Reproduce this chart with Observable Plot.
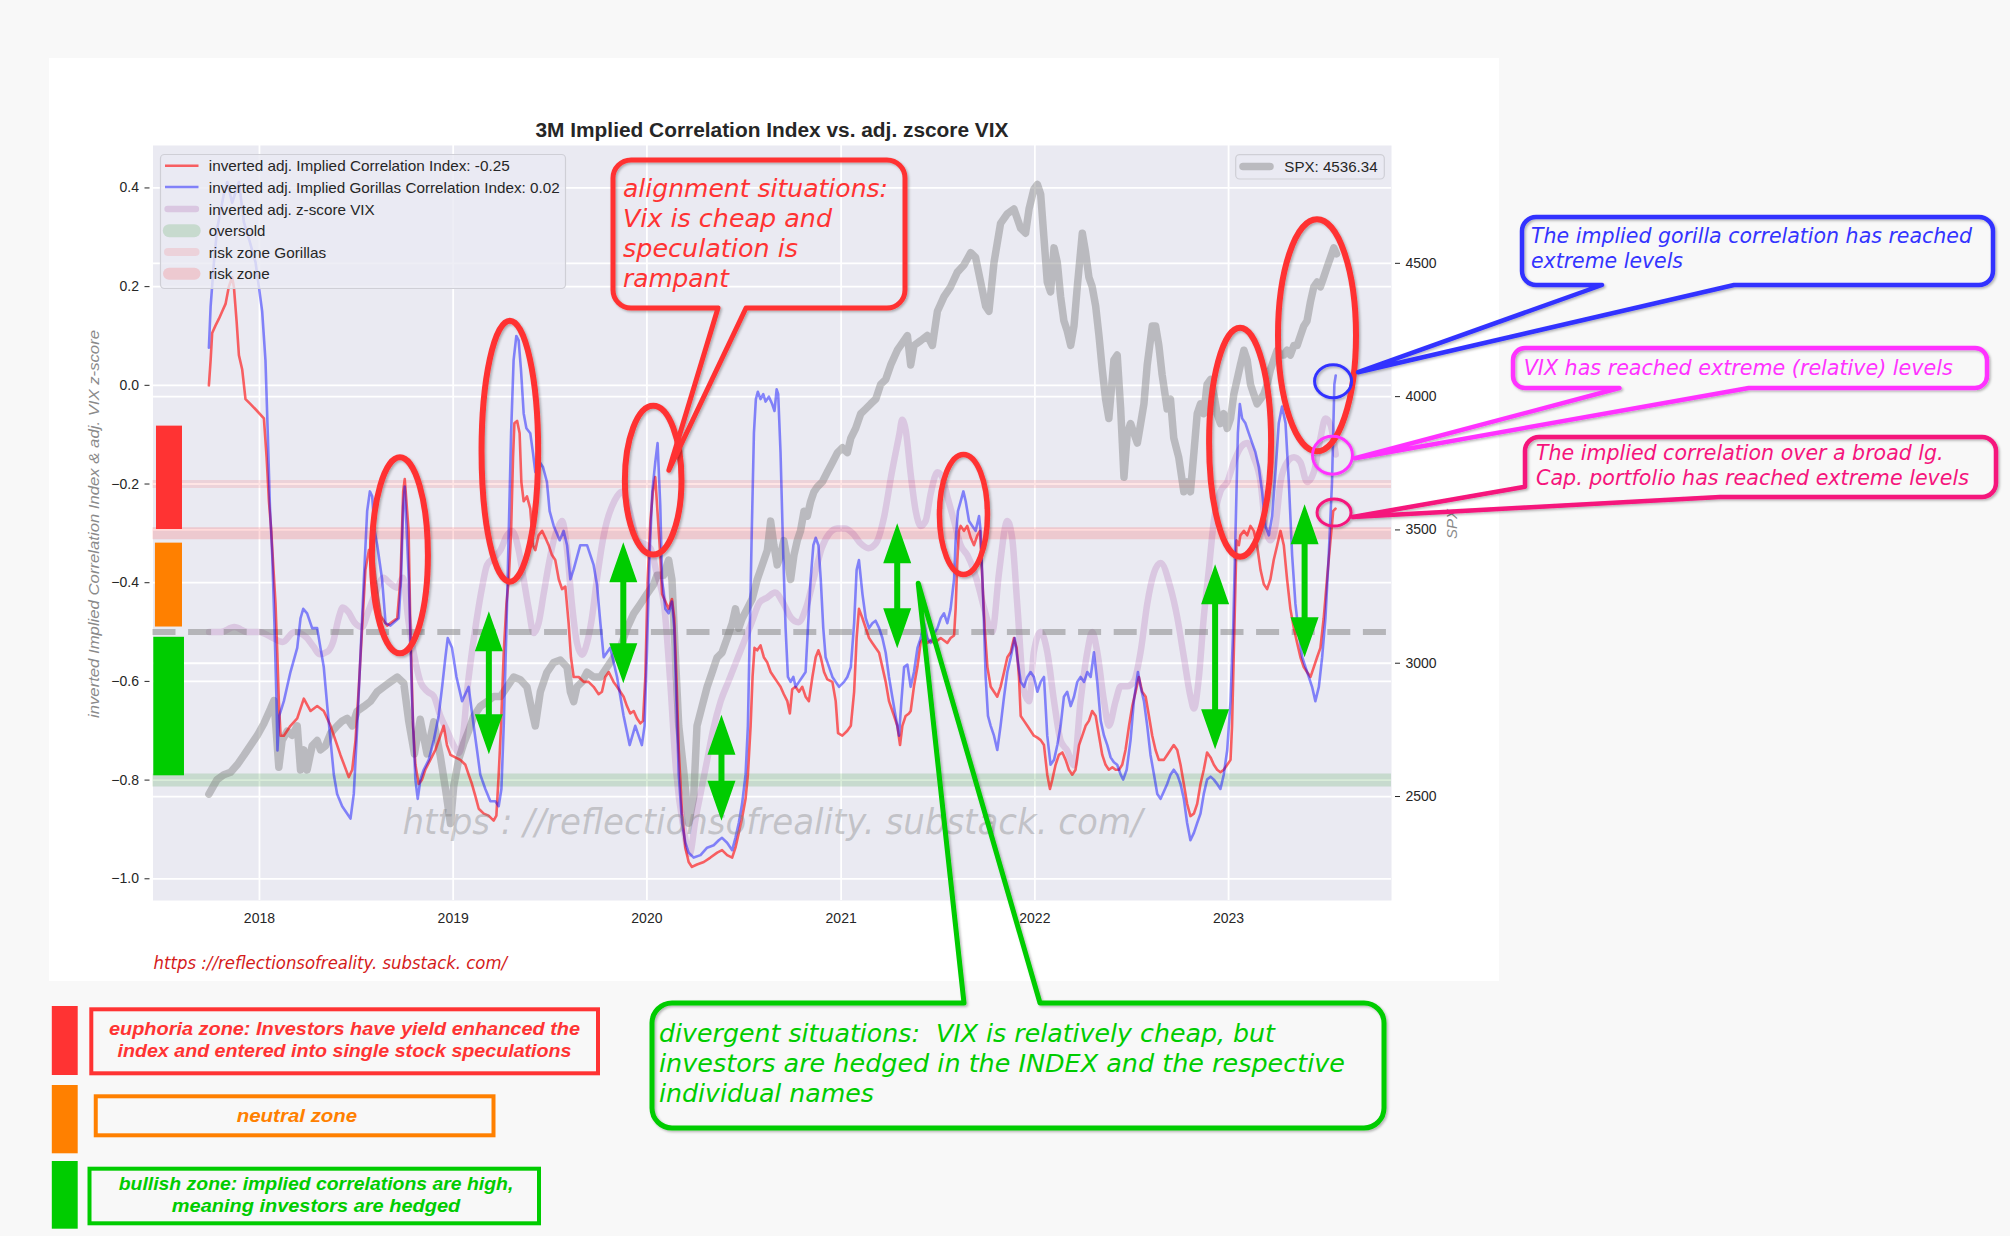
<!DOCTYPE html>
<html>
<head>
<meta charset="utf-8">
<script src="https://cdn.jsdelivr.net/npm/d3@7"></script>
<script src="https://cdn.jsdelivr.net/npm/@observablehq/plot@0.6"></script>
<style>
  html, body { margin: 0; padding: 0; background: #f8f8f8; }
  #page { position: relative; width: 2010px; height: 1236px; overflow: hidden; background: #f8f8f8; }
  #panel { position: absolute; left: 49px; top: 58px; width: 1450px; height: 923px; background: #ffffff; }
  #chart { position: absolute; left: 49px; top: 58px; width: 1450px; height: 923px; }
  #overlay { position: absolute; left: 0; top: 0; pointer-events: none; }
</style>
</head>
<body>
<div id="page">
  <div id="panel"></div>
  <div id="chart"></div>
  <svg id="overlay" width="2010" height="1236" xmlns="http://www.w3.org/2000/svg"></svg>
</div>
<script>
// ---------------- DATA ----------------
const titleText = "3M Implied Correlation Index vs. adj. zscore VIX";
const yLabelText = "inverted Implied Correlation Index & adj. VIX z-score";
const y2LabelText = "SPX";
const yearTicks = [2018, 2019, 2020, 2021, 2022, 2023];
const leftTicks = [0.4, 0.2, 0.0, -0.2, -0.4, -0.6, -0.8, -1.0];
const spxTicks = [2500, 3000, 3500, 4000, 4500];
const legendLabels = [
  "inverted adj. Implied Correlation Index: -0.25",
  "inverted adj. Implied Gorillas Correlation Index: 0.02",
  "inverted adj. z-score VIX",
  "oversold",
  "risk zone Gorillas",
  "risk zone"
];
const spxLegendLabel = "SPX: 4536.34";
const riskZoneLevel = -0.3;
const gorillaRiskLevel = -0.2;
const oversoldLevel = -0.8;
const neutralLevel = -0.5;
const watermarkText = "https : //reflectionsofreality. substack. com/";
const urlText = "https ://reflectionsofreality. substack. com/";

// [decimal year, value]
const corrSeries = [[2017.739,0.0],[2017.748,0.051],[2017.756,0.106],[2017.773,0.121],[2017.791,0.135],[2017.808,0.15],[2017.825,0.165],[2017.842,0.2],[2017.859,0.219],[2017.868,0.2],[2017.882,0.13],[2017.894,0.061],[2017.911,0.032],[2017.928,-0.028],[2017.954,-0.038],[2017.988,-0.052],[2018.023,-0.067],[2018.037,-0.146],[2018.049,-0.235],[2018.061,-0.295],[2018.071,-0.364],[2018.083,-0.443],[2018.092,-0.542],[2018.1,-0.64],[2018.109,-0.71],[2018.126,-0.71],[2018.16,-0.69],[2018.195,-0.675],[2018.229,-0.635],[2018.264,-0.66],[2018.298,-0.65],[2018.332,-0.66],[2018.367,-0.69],[2018.418,-0.749],[2018.461,-0.794],[2018.479,-0.779],[2018.496,-0.719],[2018.513,-0.611],[2018.53,-0.492],[2018.547,-0.374],[2018.565,-0.334],[2018.582,-0.329],[2018.599,-0.393],[2018.625,-0.467],[2018.659,-0.487],[2018.711,-0.472],[2018.728,-0.393],[2018.742,-0.215],[2018.75,-0.19],[2018.77,-0.295],[2018.779,-0.492],[2018.793,-0.69],[2018.805,-0.769],[2018.822,-0.808],[2018.839,-0.799],[2018.856,-0.779],[2018.882,-0.759],[2018.908,-0.739],[2018.934,-0.71],[2018.951,-0.69],[2018.968,-0.729],[2018.986,-0.749],[2019.011,-0.754],[2019.037,-0.759],[2019.063,-0.769],[2019.08,-0.789],[2019.097,-0.808],[2019.115,-0.833],[2019.132,-0.858],[2019.158,-0.868],[2019.183,-0.872],[2019.209,-0.882],[2019.223,-0.872],[2019.235,-0.789],[2019.247,-0.69],[2019.261,-0.542],[2019.275,-0.443],[2019.287,-0.393],[2019.299,-0.295],[2019.309,-0.146],[2019.316,-0.077],[2019.33,-0.072],[2019.343,-0.097],[2019.352,-0.196],[2019.364,-0.235],[2019.381,-0.225],[2019.398,-0.25],[2019.412,-0.324],[2019.424,-0.334],[2019.441,-0.304],[2019.459,-0.295],[2019.476,-0.309],[2019.493,-0.324],[2019.51,-0.344],[2019.527,-0.354],[2019.545,-0.393],[2019.562,-0.413],[2019.579,-0.408],[2019.596,-0.482],[2019.608,-0.551],[2019.622,-0.591],[2019.648,-0.591],[2019.674,-0.601],[2019.699,-0.601],[2019.725,-0.611],[2019.751,-0.626],[2019.768,-0.621],[2019.785,-0.591],[2019.803,-0.581],[2019.828,-0.601],[2019.846,-0.611],[2019.863,-0.621],[2019.88,-0.631],[2019.897,-0.65],[2019.914,-0.665],[2019.932,-0.66],[2019.949,-0.675],[2019.966,-0.685],[2019.98,-0.68],[2019.992,-0.591],[2020.004,-0.393],[2020.018,-0.275],[2020.031,-0.215],[2020.043,-0.186],[2020.069,-0.344],[2020.078,-0.423],[2020.095,-0.438],[2020.112,-0.453],[2020.129,-0.433],[2020.141,-0.472],[2020.152,-0.591],[2020.164,-0.739],[2020.181,-0.868],[2020.198,-0.937],[2020.215,-0.966],[2020.232,-0.976],[2020.258,-0.971],[2020.293,-0.966],[2020.327,-0.957],[2020.362,-0.947],[2020.387,-0.942],[2020.413,-0.952],[2020.439,-0.957],[2020.456,-0.937],[2020.473,-0.907],[2020.49,-0.877],[2020.508,-0.838],[2020.52,-0.789],[2020.534,-0.69],[2020.544,-0.591],[2020.554,-0.532],[2020.568,-0.537],[2020.585,-0.527],[2020.602,-0.551],[2020.619,-0.561],[2020.637,-0.581],[2020.654,-0.591],[2020.671,-0.601],[2020.688,-0.611],[2020.705,-0.626],[2020.723,-0.64],[2020.736,-0.665],[2020.748,-0.616],[2020.765,-0.611],[2020.783,-0.621],[2020.8,-0.611],[2020.817,-0.631],[2020.834,-0.64],[2020.852,-0.591],[2020.869,-0.551],[2020.883,-0.537],[2020.895,-0.551],[2020.912,-0.581],[2020.929,-0.596],[2020.955,-0.601],[2020.972,-0.64],[2020.984,-0.705],[2021.006,-0.71],[2021.032,-0.7],[2021.05,-0.69],[2021.067,-0.621],[2021.08,-0.512],[2021.092,-0.453],[2021.11,-0.472],[2021.127,-0.492],[2021.144,-0.512],[2021.161,-0.522],[2021.178,-0.532],[2021.196,-0.542],[2021.213,-0.571],[2021.23,-0.601],[2021.247,-0.64],[2021.273,-0.67],[2021.29,-0.69],[2021.304,-0.729],[2021.316,-0.69],[2021.333,-0.67],[2021.35,-0.665],[2021.359,-0.66],[2021.376,-0.61],[2021.394,-0.57],[2021.411,-0.52],[2021.428,-0.512],[2021.445,-0.522],[2021.462,-0.517],[2021.48,-0.522],[2021.497,-0.517],[2021.514,-0.512],[2021.531,-0.517],[2021.548,-0.522],[2021.565,-0.512],[2021.583,-0.507],[2021.591,-0.453],[2021.6,-0.354],[2021.608,-0.295],[2021.617,-0.285],[2021.634,-0.295],[2021.651,-0.285],[2021.669,-0.309],[2021.686,-0.324],[2021.703,-0.304],[2021.717,-0.295],[2021.729,-0.393],[2021.741,-0.492],[2021.755,-0.571],[2021.772,-0.611],[2021.789,-0.621],[2021.806,-0.631],[2021.823,-0.611],[2021.841,-0.581],[2021.858,-0.551],[2021.875,-0.541],[2021.892,-0.512],[2021.906,-0.532],[2021.918,-0.591],[2021.927,-0.67],[2021.944,-0.68],[2021.961,-0.69],[2021.978,-0.7],[2021.995,-0.71],[2022.013,-0.714],[2022.03,-0.719],[2022.047,-0.729],[2022.064,-0.789],[2022.078,-0.818],[2022.09,-0.799],[2022.107,-0.769],[2022.124,-0.749],[2022.142,-0.744],[2022.159,-0.759],[2022.176,-0.779],[2022.193,-0.789],[2022.21,-0.779],[2022.228,-0.729],[2022.245,-0.71],[2022.262,-0.69],[2022.279,-0.68],[2022.296,-0.66],[2022.314,-0.67],[2022.331,-0.71],[2022.348,-0.749],[2022.365,-0.769],[2022.382,-0.779],[2022.4,-0.774],[2022.417,-0.779],[2022.434,-0.779],[2022.451,-0.769],[2022.468,-0.739],[2022.486,-0.69],[2022.503,-0.65],[2022.52,-0.621],[2022.537,-0.591],[2022.554,-0.621],[2022.572,-0.631],[2022.589,-0.67],[2022.606,-0.71],[2022.623,-0.739],[2022.64,-0.759],[2022.666,-0.759],[2022.683,-0.749],[2022.7,-0.739],[2022.717,-0.729],[2022.735,-0.739],[2022.752,-0.769],[2022.769,-0.808],[2022.786,-0.848],[2022.803,-0.873],[2022.821,-0.868],[2022.838,-0.848],[2022.855,-0.808],[2022.872,-0.779],[2022.889,-0.744],[2022.907,-0.754],[2022.924,-0.769],[2022.941,-0.779],[2022.958,-0.784],[2022.975,-0.779],[2022.993,-0.769],[2023.01,-0.759],[2023.018,-0.69],[2023.027,-0.541],[2023.036,-0.393],[2023.041,-0.314],[2023.053,-0.324],[2023.061,-0.304],[2023.079,-0.295],[2023.096,-0.304],[2023.113,-0.285],[2023.13,-0.295],[2023.147,-0.324],[2023.165,-0.374],[2023.182,-0.403],[2023.199,-0.413],[2023.216,-0.393],[2023.233,-0.354],[2023.251,-0.324],[2023.268,-0.295],[2023.285,-0.324],[2023.302,-0.393],[2023.319,-0.453],[2023.337,-0.492],[2023.354,-0.522],[2023.371,-0.551],[2023.388,-0.571],[2023.405,-0.581],[2023.423,-0.591],[2023.44,-0.571],[2023.457,-0.551],[2023.474,-0.532],[2023.491,-0.472],[2023.508,-0.393],[2023.526,-0.314],[2023.54,-0.255],[2023.552,-0.25]];

const gorillaSeries = [[2017.739,0.076],[2017.748,0.16],[2017.765,0.249],[2017.782,0.318],[2017.816,0.387],[2017.834,0.412],[2017.859,0.37],[2017.894,0.412],[2017.92,0.33],[2017.945,0.298],[2017.98,0.249],[2017.997,0.2],[2018.014,0.15],[2018.031,0.051],[2018.043,-0.097],[2018.054,-0.245],[2018.066,-0.344],[2018.078,-0.492],[2018.088,-0.64],[2018.093,-0.74],[2018.102,-0.67],[2018.126,-0.64],[2018.16,-0.581],[2018.195,-0.532],[2018.212,-0.472],[2018.226,-0.453],[2018.246,-0.462],[2018.272,-0.492],[2018.298,-0.492],[2018.315,-0.532],[2018.332,-0.571],[2018.35,-0.65],[2018.367,-0.72],[2018.384,-0.789],[2018.401,-0.828],[2018.427,-0.853],[2018.453,-0.868],[2018.47,-0.878],[2018.487,-0.828],[2018.505,-0.69],[2018.522,-0.542],[2018.539,-0.393],[2018.556,-0.255],[2018.57,-0.215],[2018.582,-0.225],[2018.594,-0.294],[2018.608,-0.324],[2018.633,-0.393],[2018.651,-0.482],[2018.676,-0.487],[2018.719,-0.472],[2018.731,-0.393],[2018.742,-0.245],[2018.75,-0.205],[2018.771,-0.393],[2018.788,-0.64],[2018.805,-0.799],[2018.817,-0.838],[2018.831,-0.799],[2018.848,-0.779],[2018.874,-0.759],[2018.9,-0.719],[2018.925,-0.67],[2018.943,-0.611],[2018.96,-0.551],[2018.972,-0.512],[2018.994,-0.532],[2019.017,-0.591],[2019.046,-0.64],[2019.08,-0.611],[2019.106,-0.69],[2019.123,-0.739],[2019.14,-0.789],[2019.166,-0.818],[2019.192,-0.843],[2019.218,-0.843],[2019.235,-0.853],[2019.249,-0.818],[2019.261,-0.69],[2019.275,-0.492],[2019.287,-0.295],[2019.299,-0.097],[2019.312,0.051],[2019.326,0.1],[2019.338,0.091],[2019.35,0.032],[2019.364,-0.057],[2019.378,-0.087],[2019.398,-0.097],[2019.412,-0.137],[2019.424,-0.176],[2019.447,-0.156],[2019.464,-0.166],[2019.484,-0.196],[2019.498,-0.255],[2019.519,-0.285],[2019.55,-0.314],[2019.57,-0.295],[2019.588,-0.324],[2019.605,-0.393],[2019.622,-0.373],[2019.656,-0.324],[2019.691,-0.324],[2019.725,-0.364],[2019.742,-0.403],[2019.76,-0.482],[2019.777,-0.551],[2019.811,-0.532],[2019.846,-0.591],[2019.88,-0.67],[2019.911,-0.729],[2019.94,-0.69],[2019.974,-0.729],[2019.988,-0.69],[2020.0,-0.542],[2020.014,-0.344],[2020.028,-0.215],[2020.043,-0.156],[2020.055,-0.117],[2020.069,-0.245],[2020.078,-0.393],[2020.095,-0.453],[2020.112,-0.462],[2020.129,-0.438],[2020.141,-0.492],[2020.152,-0.64],[2020.164,-0.789],[2020.181,-0.887],[2020.198,-0.927],[2020.215,-0.947],[2020.241,-0.957],[2020.276,-0.952],[2020.31,-0.937],[2020.344,-0.932],[2020.37,-0.922],[2020.387,-0.917],[2020.413,-0.927],[2020.439,-0.942],[2020.456,-0.917],[2020.473,-0.887],[2020.49,-0.848],[2020.508,-0.789],[2020.52,-0.69],[2020.53,-0.492],[2020.54,-0.295],[2020.551,-0.097],[2020.561,-0.028],[2020.571,-0.013],[2020.585,-0.028],[2020.599,-0.018],[2020.611,-0.033],[2020.628,-0.023],[2020.645,-0.038],[2020.657,-0.052],[2020.668,-0.008],[2020.676,-0.018],[2020.688,-0.136],[2020.702,-0.344],[2020.714,-0.492],[2020.726,-0.591],[2020.74,-0.601],[2020.754,-0.591],[2020.766,-0.611],[2020.783,-0.601],[2020.8,-0.591],[2020.817,-0.581],[2020.829,-0.492],[2020.843,-0.393],[2020.857,-0.324],[2020.869,-0.309],[2020.883,-0.324],[2020.895,-0.393],[2020.908,-0.492],[2020.92,-0.551],[2020.938,-0.571],[2020.955,-0.591],[2020.972,-0.601],[2020.989,-0.611],[2021.015,-0.601],[2021.032,-0.591],[2021.05,-0.571],[2021.067,-0.482],[2021.08,-0.374],[2021.092,-0.354],[2021.11,-0.423],[2021.127,-0.472],[2021.144,-0.492],[2021.161,-0.482],[2021.178,-0.477],[2021.196,-0.492],[2021.213,-0.512],[2021.23,-0.542],[2021.247,-0.591],[2021.264,-0.631],[2021.281,-0.67],[2021.299,-0.71],[2021.311,-0.64],[2021.325,-0.571],[2021.342,-0.566],[2021.359,-0.611],[2021.376,-0.581],[2021.394,-0.532],[2021.411,-0.512],[2021.428,-0.482],[2021.445,-0.512],[2021.462,-0.522],[2021.48,-0.502],[2021.497,-0.492],[2021.514,-0.472],[2021.531,-0.462],[2021.548,-0.482],[2021.565,-0.453],[2021.583,-0.393],[2021.591,-0.314],[2021.603,-0.255],[2021.617,-0.235],[2021.631,-0.215],[2021.643,-0.235],[2021.66,-0.275],[2021.677,-0.285],[2021.694,-0.295],[2021.712,-0.265],[2021.72,-0.295],[2021.734,-0.443],[2021.746,-0.591],[2021.758,-0.67],[2021.772,-0.69],[2021.789,-0.71],[2021.806,-0.739],[2021.823,-0.69],[2021.841,-0.631],[2021.858,-0.581],[2021.875,-0.552],[2021.896,-0.512],[2021.909,-0.551],[2021.927,-0.601],[2021.944,-0.611],[2021.961,-0.591],[2021.978,-0.581],[2021.995,-0.591],[2022.013,-0.621],[2022.03,-0.601],[2022.047,-0.591],[2022.064,-0.71],[2022.081,-0.769],[2022.099,-0.759],[2022.116,-0.729],[2022.133,-0.69],[2022.15,-0.631],[2022.167,-0.621],[2022.185,-0.65],[2022.202,-0.631],[2022.219,-0.601],[2022.236,-0.591],[2022.254,-0.601],[2022.271,-0.581],[2022.288,-0.591],[2022.305,-0.541],[2022.322,-0.601],[2022.34,-0.68],[2022.357,-0.71],[2022.374,-0.729],[2022.391,-0.754],[2022.408,-0.764],[2022.425,-0.769],[2022.443,-0.789],[2022.456,-0.799],[2022.474,-0.779],[2022.494,-0.719],[2022.511,-0.64],[2022.532,-0.581],[2022.546,-0.611],[2022.563,-0.64],[2022.58,-0.69],[2022.597,-0.749],[2022.615,-0.789],[2022.632,-0.828],[2022.649,-0.838],[2022.666,-0.823],[2022.683,-0.808],[2022.7,-0.789],[2022.717,-0.779],[2022.735,-0.789],[2022.752,-0.808],[2022.769,-0.838],[2022.786,-0.887],[2022.803,-0.922],[2022.821,-0.907],[2022.838,-0.887],[2022.855,-0.868],[2022.872,-0.828],[2022.889,-0.799],[2022.907,-0.793],[2022.924,-0.799],[2022.941,-0.808],[2022.958,-0.818],[2022.975,-0.789],[2022.993,-0.739],[2023.01,-0.64],[2023.024,-0.492],[2023.036,-0.295],[2023.048,-0.097],[2023.058,-0.038],[2023.07,-0.067],[2023.087,-0.077],[2023.104,-0.097],[2023.122,-0.117],[2023.139,-0.136],[2023.156,-0.166],[2023.173,-0.215],[2023.19,-0.285],[2023.208,-0.304],[2023.225,-0.265],[2023.242,-0.176],[2023.259,-0.077],[2023.276,-0.043],[2023.294,-0.077],[2023.311,-0.196],[2023.328,-0.344],[2023.345,-0.443],[2023.362,-0.502],[2023.38,-0.551],[2023.397,-0.571],[2023.414,-0.591],[2023.431,-0.611],[2023.448,-0.64],[2023.466,-0.611],[2023.483,-0.551],[2023.5,-0.472],[2023.517,-0.344],[2023.534,-0.196],[2023.546,0.002],[2023.553,0.02]];

const vixSeries = [[2017.74,-0.5],[2017.8,-0.5],[2017.87,-0.49],[2017.94,-0.5],[2018.0,-0.5],[2018.06,-0.51],[2018.12,-0.52],[2018.18,-0.5],[2018.24,-0.51],[2018.28,-0.53],[2018.31,-0.545],[2018.35,-0.54],[2018.38,-0.52],[2018.41,-0.47],[2018.43,-0.45],[2018.46,-0.46],[2018.49,-0.48],[2018.53,-0.49],[2018.56,-0.46],[2018.6,-0.42],[2018.64,-0.39],[2018.67,-0.4],[2018.71,-0.41],[2018.74,-0.39],[2018.77,-0.48],[2018.8,-0.55],[2018.83,-0.6],[2018.866,-0.62],[2018.9,-0.63],[2018.934,-0.67],[2018.969,-0.7],[2019.003,-0.73],[2019.029,-0.745],[2019.054,-0.7],[2019.072,-0.62],[2019.097,-0.54],[2019.123,-0.47],[2019.149,-0.41],[2019.175,-0.364],[2019.21,-0.35],[2019.244,-0.334],[2019.278,-0.304],[2019.304,-0.295],[2019.338,-0.334],[2019.364,-0.393],[2019.39,-0.453],[2019.415,-0.502],[2019.441,-0.482],[2019.467,-0.423],[2019.493,-0.364],[2019.519,-0.314],[2019.545,-0.285],[2019.562,-0.275],[2019.588,-0.334],[2019.613,-0.443],[2019.639,-0.522],[2019.665,-0.546],[2019.691,-0.522],[2019.716,-0.472],[2019.742,-0.393],[2019.768,-0.324],[2019.794,-0.275],[2019.82,-0.245],[2019.846,-0.225],[2019.872,-0.215],[2019.897,-0.235],[2019.923,-0.275],[2019.949,-0.314],[2019.98,-0.32],[2020.018,-0.33],[2020.05,-0.38],[2020.09,-0.45],[2020.12,-0.6],[2020.15,-0.78],[2020.19,-0.9],[2020.22,-0.95],[2020.25,-0.88],[2020.28,-0.82],[2020.31,-0.76],[2020.34,-0.7],[2020.38,-0.64],[2020.42,-0.6],[2020.46,-0.56],[2020.5,-0.52],[2020.54,-0.48],[2020.58,-0.44],[2020.62,-0.43],[2020.66,-0.42],[2020.7,-0.44],[2020.74,-0.47],[2020.78,-0.48],[2020.82,-0.45],[2020.86,-0.39],[2020.9,-0.33],[2020.94,-0.3],[2020.98,-0.29],[2021.02,-0.29],[2021.06,-0.3],[2021.1,-0.32],[2021.14,-0.33],[2021.18,-0.32],[2021.22,-0.27],[2021.26,-0.18],[2021.3,-0.1],[2021.315,-0.07],[2021.333,-0.09],[2021.359,-0.18],[2021.385,-0.255],[2021.411,-0.285],[2021.436,-0.275],[2021.462,-0.22],[2021.497,-0.176],[2021.522,-0.186],[2021.548,-0.225],[2021.583,-0.275],[2021.617,-0.324],[2021.651,-0.344],[2021.68,-0.37],[2021.711,-0.41],[2021.737,-0.45],[2021.78,-0.5],[2021.815,-0.38],[2021.858,-0.275],[2021.883,-0.31],[2021.909,-0.443],[2021.944,-0.62],[2021.97,-0.64],[2021.995,-0.54],[2022.03,-0.5],[2022.064,-0.54],[2022.099,-0.64],[2022.133,-0.72],[2022.167,-0.74],[2022.202,-0.77],[2022.236,-0.64],[2022.271,-0.54],[2022.296,-0.5],[2022.322,-0.54],[2022.357,-0.64],[2022.382,-0.69],[2022.417,-0.64],[2022.443,-0.61],[2022.477,-0.61],[2022.511,-0.6],[2022.546,-0.54],[2022.58,-0.443],[2022.615,-0.38],[2022.649,-0.36],[2022.7,-0.41],[2022.735,-0.47],[2022.769,-0.55],[2022.803,-0.63],[2022.821,-0.655],[2022.847,-0.59],[2022.872,-0.47],[2022.898,-0.374],[2022.924,-0.275],[2022.958,-0.215],[2022.993,-0.196],[2023.027,-0.156],[2023.061,-0.127],[2023.096,-0.117],[2023.13,-0.146],[2023.165,-0.196],[2023.19,-0.285],[2023.216,-0.314],[2023.242,-0.285],[2023.268,-0.196],[2023.302,-0.156],[2023.337,-0.146],[2023.371,-0.156],[2023.405,-0.196],[2023.44,-0.176],[2023.474,-0.107],[2023.5,-0.067],[2023.526,-0.08],[2023.553,-0.14]];

const spxSeries = [[2017.739,2509],[2017.782,2564],[2017.816,2582],[2017.851,2591],[2017.885,2619],[2017.92,2655],[2017.954,2692],[2017.988,2728],[2018.023,2774],[2018.057,2829],[2018.075,2860],[2018.1,2610],[2018.117,2710],[2018.143,2745],[2018.169,2730],[2018.195,2765],[2018.212,2600],[2018.229,2675],[2018.246,2600],[2018.272,2690],[2018.298,2710],[2018.315,2675],[2018.341,2690],[2018.367,2737],[2018.401,2765],[2018.427,2783],[2018.453,2793],[2018.479,2765],[2018.504,2820],[2018.539,2838],[2018.573,2857],[2018.608,2893],[2018.642,2912],[2018.676,2930],[2018.711,2948],[2018.745,2925],[2018.77,2785],[2018.8,2660],[2018.83,2790],[2018.865,2660],[2018.9,2780],[2018.934,2650],[2018.96,2530],[2018.986,2399],[2019.003,2540],[2019.029,2640],[2019.055,2700],[2019.08,2746],[2019.106,2801],[2019.14,2838],[2019.175,2856],[2019.209,2875],[2019.244,2875],[2019.278,2911],[2019.312,2948],[2019.347,2938],[2019.381,2911],[2019.407,2820],[2019.424,2765],[2019.45,2893],[2019.484,2966],[2019.519,3003],[2019.553,3012],[2019.588,2985],[2019.605,2893],[2019.622,2856],[2019.639,2911],[2019.665,2930],[2019.691,2966],[2019.725,2948],[2019.76,2948],[2019.794,2985],[2019.828,3021],[2019.863,3058],[2019.897,3131],[2019.932,3186],[2019.966,3222],[2020.0,3259],[2020.035,3296],[2020.052,3330],[2020.086,3330],[2020.112,3387],[2020.129,3314],[2020.146,3039],[2020.164,2765],[2020.189,2600],[2020.215,2400],[2020.241,2500],[2020.258,2765],[2020.284,2838],[2020.31,2911],[2020.336,2966],[2020.361,3021],[2020.387,3040],[2020.413,3094],[2020.439,3149],[2020.456,3204],[2020.473,3131],[2020.49,3167],[2020.516,3204],[2020.542,3241],[2020.568,3314],[2020.594,3369],[2020.62,3424],[2020.637,3533],[2020.654,3442],[2020.671,3369],[2020.688,3405],[2020.705,3460],[2020.723,3387],[2020.74,3314],[2020.757,3405],[2020.774,3460],[2020.791,3497],[2020.809,3570],[2020.826,3552],[2020.843,3607],[2020.86,3643],[2020.878,3662],[2020.903,3680],[2020.929,3717],[2020.955,3753],[2020.981,3790],[2021.007,3808],[2021.032,3790],[2021.05,3844],[2021.075,3881],[2021.101,3936],[2021.127,3954],[2021.153,3973],[2021.179,3991],[2021.204,4046],[2021.23,4064],[2021.256,4119],[2021.29,4174],[2021.325,4211],[2021.342,4229],[2021.359,4119],[2021.376,4192],[2021.411,4210],[2021.445,4229],[2021.471,4192],[2021.497,4320],[2021.531,4375],[2021.565,4412],[2021.6,4467],[2021.634,4494],[2021.669,4540],[2021.694,4522],[2021.72,4430],[2021.746,4339],[2021.763,4320],[2021.789,4503],[2021.823,4650],[2021.858,4686],[2021.892,4704],[2021.927,4631],[2021.952,4613],[2021.97,4704],[2021.995,4778],[2022.013,4796],[2022.03,4759],[2022.047,4595],[2022.064,4430],[2022.081,4393],[2022.099,4558],[2022.116,4503],[2022.133,4375],[2022.15,4284],[2022.167,4247],[2022.185,4192],[2022.202,4265],[2022.219,4412],[2022.245,4613],[2022.262,4540],[2022.279,4448],[2022.296,4412],[2022.314,4339],[2022.331,4229],[2022.348,4101],[2022.365,3991],[2022.382,3918],[2022.408,4137],[2022.425,4156],[2022.443,3954],[2022.46,3698],[2022.477,3863],[2022.494,3899],[2022.511,3863],[2022.529,3826],[2022.546,3899],[2022.563,3973],[2022.58,4119],[2022.606,4265],[2022.623,4265],[2022.64,4192],[2022.657,4082],[2022.683,3954],[2022.7,3991],[2022.717,3845],[2022.743,3771],[2022.769,3643],[2022.786,3680],[2022.803,3643],[2022.821,3790],[2022.838,3936],[2022.855,3973],[2022.872,3936],[2022.889,4046],[2022.907,4064],[2022.924,4009],[2022.941,3936],[2022.958,3899],[2022.975,3936],[2022.993,3881],[2023.01,3918],[2023.027,4009],[2023.044,4064],[2023.061,4119],[2023.079,4174],[2023.096,4137],[2023.113,4046],[2023.13,4009],[2023.147,3973],[2023.165,3991],[2023.182,4009],[2023.199,4046],[2023.216,4101],[2023.233,4137],[2023.251,4174],[2023.268,4156],[2023.285,4156],[2023.302,4174],[2023.319,4156],[2023.337,4192],[2023.354,4192],[2023.371,4229],[2023.388,4265],[2023.405,4284],[2023.423,4357],[2023.44,4412],[2023.457,4430],[2023.474,4412],[2023.491,4448],[2023.508,4485],[2023.526,4522],[2023.543,4558],[2023.557,4536]];

// Annotation texts
const alignLines = ["alignment situations:", "Vix is cheap and", "speculation is", "rampant"];
const divergentLines = ["divergent situations:  VIX is relatively cheap, but", "investors are hedged in the INDEX and the respective", "individual names"];
const gorillaNote = ["The implied gorilla correlation has reached", "extreme levels"];
const vixNote = ["VIX has reached extreme (relative) levels"];
const corrNote = ["The implied correlation over a broad lg.", "Cap. portfolio has reached extreme levels"];
const euphoriaNote = ["euphoria zone: Investors have yield enhanced the", "index and entered into single stock speculations"];
const neutralNote = ["neutral zone"];
const bullishNote = ["bullish zone: implied correlations are high,", "meaning investors are hedged"];

// ---------------- HELPERS ----------------
const toDate = y => { const yr = Math.floor(y); const a = Date.UTC(yr, 0, 1), b = Date.UTC(yr + 1, 0, 1); return new Date(a + (y - yr) * (b - a)); };
const X0 = 2017.4505, X1 = 2023.841;
const Y0 = -1.044, Y1 = 0.486;
const S0 = 2110, S1 = 4942;
const spxToY = s => Y0 + (s - S0) / (S1 - S0) * (Y1 - Y0);
const yToSpx = v => S0 + (v - Y0) / (Y1 - Y0) * (S1 - S0);
const toRows = arr => arr.map(([t, v]) => ({date: toDate(t), v}));

const W = 1450, H = 923, ML = 103.5, MR = 108, MT = 87, MB = 81;
const OX = 49, OY = 58;
const FONT = "'Liberation Sans', Arial, sans-serif";
const DV = "'DejaVu Sans', sans-serif";

const RED = "#ff3333", GREEN = "#00cc00", ORANGE = "#ff8000", BLUE = "#3333ff", MAG = "#ff33ff", PINK = "#f5147c";

const zoneBlocks = [
  {t1: 2017.4685, t2: 2017.6027, v1: -0.2922, v2: -0.0827, color: RED},
  {t1: 2017.4630, t2: 2017.6027, v1: -0.4898, v2: -0.3198, color: ORANGE},
  {t1: 2017.4546, t2: 2017.6130, v1: -0.7913, v2: -0.5106, color: GREEN}
];

// ---------------- PLOT ----------------
const chart = Plot.plot({
  width: W, height: H,
  marginLeft: ML, marginRight: MR, marginTop: MT, marginBottom: MB,
  style: {background: "transparent", fontFamily: FONT, fontSize: "14px", color: "#262626", overflow: "visible"},
  x: {type: "utc", domain: [toDate(X0), toDate(X1)]},
  y: {domain: [Y0, Y1]},
  color: {type: "identity"},
  marks: [
    Plot.frame({fill: "#eaeaf2", stroke: "none"}),
    Plot.ruleY(spxTicks.map(spxToY), {stroke: "#ffffff", strokeWidth: 1.8}),
    Plot.ruleY(leftTicks, {stroke: "#ffffff", strokeWidth: 1.8}),
    Plot.ruleX(yearTicks.map(toDate), {stroke: "#ffffff", strokeWidth: 1.8}),
    Plot.ruleY([gorillaRiskLevel], {stroke: "#ff0000", strokeOpacity: 0.1, strokeWidth: 8}),
    Plot.ruleY([riskZoneLevel], {stroke: "#ff0000", strokeOpacity: 0.14, strokeWidth: 12}),
    Plot.ruleY([oversoldLevel], {stroke: "#008000", strokeOpacity: 0.15, strokeWidth: 13}),
    Plot.rect(zoneBlocks, {x1: d => toDate(d.t1), x2: d => toDate(d.t2), y1: "v1", y2: "v2", fill: "color"}),
    Plot.line(spxSeries.map(([t, s]) => ({date: toDate(t), v: spxToY(s)})), {x: "date", y: "v", stroke: "#808080", strokeOpacity: 0.45, strokeWidth: 7.5, strokeLinejoin: "round"}),
    Plot.line(toRows(vixSeries), {x: "date", y: "v", stroke: "#800080", strokeOpacity: 0.15, strokeWidth: 6.5, strokeLinejoin: "round", curve: "monotone-x"}),
    Plot.ruleY([neutralLevel], {stroke: "#808080", strokeOpacity: 0.5, strokeWidth: 6, strokeDasharray: "23,12.6"}),
    Plot.line(toRows(corrSeries), {x: "date", y: "v", stroke: "#ff0000", strokeOpacity: 0.6, strokeWidth: 2.6, strokeLinejoin: "round"}),
    Plot.line(toRows(gorillaSeries), {x: "date", y: "v", stroke: "#0000ff", strokeOpacity: 0.45, strokeWidth: 2.6, strokeLinejoin: "round"}),
    Plot.axisY(leftTicks, {anchor: "left", tickSize: 5, tickPadding: 6, dx: -3, fontSize: 14, label: null,
      tickFormat: d => (d < 0 ? "\u2212" : "") + Math.abs(d).toFixed(1)}),
    Plot.axisY(spxTicks.map(spxToY), {anchor: "right", tickSize: 5, tickPadding: 6, dx: 3, fontSize: 14, label: null,
      tickFormat: v => String(Math.round(yToSpx(v)))}),
    Plot.axisX(yearTicks.map(toDate), {anchor: "bottom", tickSize: 0, tickPadding: 13, fontSize: 14, label: null,
      tickFormat: d3.utcFormat("%Y")})
  ]
});
document.getElementById("chart").append(chart);

// scales for annotations
let sx, sy;
try { sx = chart.scale("x"); sy = chart.scale("y"); } catch (e) {}
const fx = (sx && sx.apply) ? (t => sx.apply(toDate(t))) : (t => d3.scaleUtc([toDate(X0), toDate(X1)], [ML, W - MR])(toDate(t)));
const fy = (sy && sy.apply) ? (v => sy.apply(v)) : (v => d3.scaleLinear([Y0, Y1], [H - MB, MT])(v));
const P = (t, v) => [OX + fx(t), OY + fy(v)];

// ---------------- OVERLAY ----------------
const ov = d3.select("#overlay");
const defs = ov.append("defs");
const flt = defs.append("filter").attr("id", "sh").attr("x", "-30%").attr("y", "-30%").attr("width", "160%").attr("height", "160%");
flt.append("feDropShadow").attr("dx", 1.5).attr("dy", 1.5).attr("stdDeviation", 1.2).attr("flood-color", "#000").attr("flood-opacity", 0.28);

function txt(g, o) {
  const t = g.append("text").attr("x", o.x || 0).attr("y", o.y || 0).text(o.text)
    .attr("font-family", o.family || FONT).attr("font-size", o.size).attr("fill", o.fill || "#262626")
    .style("white-space", "pre");
  if (o.italic) t.attr("font-style", "italic");
  if (o.bold) t.attr("font-weight", "bold");
  if (o.anchor) t.attr("text-anchor", o.anchor);
  if (o.len) t.attr("textLength", o.len).attr("lengthAdjust", "spacingAndGlyphs");
  if (o.baseline) t.attr("dominant-baseline", o.baseline);
  if (o.transform) t.attr("transform", o.transform);
  if (o.opacity != null) t.attr("fill-opacity", o.opacity);
  return t;
}

// title and axis labels
txt(ov, {x: 772, y: 137.3, text: titleText, size: 20, bold: true, anchor: "middle", len: 473});
txt(ov, {text: yLabelText, size: 15, italic: true, fill: "#8a8a8a", anchor: "middle", baseline: "central", len: 388, transform: "translate(93.6,524) rotate(-90)"});
txt(ov, {text: y2LabelText, size: 15, italic: true, fill: "#8a8a8a", anchor: "middle", baseline: "central", transform: "translate(1451.5,524) rotate(-90)"});

// watermark and url
txt(ov, {x: 402.5, y: 834, text: watermarkText, size: 35, italic: true, family: DV, fill: "#808080", opacity: 0.38, len: 740});
txt(ov, {x: 153.6, y: 969, text: urlText, size: 17, italic: true, family: DV, fill: "#d41a1a", len: 353.5});

// main legend
const lg = ov.append("g");
lg.append("rect").attr("x", 160.5).attr("y", 154.5).attr("width", 405).attr("height", 134).attr("rx", 4)
  .attr("fill", "#eaeaf2").attr("fill-opacity", 0.8).attr("stroke", "#cfcfd6").attr("stroke-width", 1.2);
const rowsY = [165.7, 187, 209, 230.7, 252, 273.7];
const rowLens = [301, 351, 166, 56.7, 117.4, 61];
const handles = [
  {stroke: "#ff0000", op: 0.6, w: 2.6, cap: "butt"},
  {stroke: "#0000ff", op: 0.45, w: 2.6, cap: "butt"},
  {stroke: "#800080", op: 0.15, w: 6.5, cap: "round"},
  {stroke: "#008000", op: 0.15, w: 13, cap: "round"},
  {stroke: "#ff0000", op: 0.1, w: 8, cap: "round"},
  {stroke: "#ff0000", op: 0.14, w: 12, cap: "round"}
];
legendLabels.forEach((lab, i) => {
  const h = handles[i];
  const xa = h.cap === "round" ? 166 + h.w / 4 : 165, xb = h.cap === "round" ? 197.5 - h.w / 4 : 198.5;
  lg.append("line").attr("x1", xa).attr("x2", xb).attr("y1", rowsY[i]).attr("y2", rowsY[i])
    .attr("stroke", h.stroke).attr("stroke-opacity", h.op).attr("stroke-width", h.w).attr("stroke-linecap", h.cap);
  txt(lg, {x: 208.75, y: rowsY[i], text: lab, size: 15, baseline: "central", len: rowLens[i]});
});
// SPX legend
lg.append("rect").attr("x", 1235.7).attr("y", 154.6).attr("width", 148.6).attr("height", 24.4).attr("rx", 4)
  .attr("fill", "#eaeaf2").attr("fill-opacity", 0.8).attr("stroke", "#cfcfd6").attr("stroke-width", 1.2);
lg.append("line").attr("x1", 1243).attr("x2", 1270).attr("y1", 166.5).attr("y2", 166.5)
  .attr("stroke", "#808080").attr("stroke-opacity", 0.45).attr("stroke-width", 7.5).attr("stroke-linecap", "round");
txt(lg, {x: 1284.3, y: 166.5, text: spxLegendLabel, size: 15, baseline: "central", len: 93.3});

// ellipses
const ellipses = [
  {t: 2018.7276, v: -0.3454, rx: 28, ry: 98, c: RED, w: 6},
  {t: 2019.2952, v: -0.1345, rx: 28.3, ry: 130.5, c: RED, w: 6},
  {t: 2020.035, v: -0.1933, rx: 28.3, ry: 74.4, c: RED, w: 6},
  {t: 2021.634, v: -0.2628, rx: 24, ry: 60, c: RED, w: 5.5},
  {t: 2023.062, v: -0.1163, rx: 31, ry: 114.5, c: RED, w: 6},
  {t: 2023.459, v: 0.1005, rx: 39, ry: 116, c: RED, w: 6},
  {t: 2023.542, v: 0.0073, rx: 18.5, ry: 16.5, c: BLUE, w: 3},
  {t: 2023.539, v: -0.1427, rx: 20, ry: 19, c: MAG, w: 3},
  {t: 2023.547, v: -0.2588, rx: 17, ry: 13.5, c: PINK, w: 3}
];
const eg = ov.append("g").attr("filter", "url(#sh)");
ellipses.forEach(e => {
  const [cx, cy] = P(e.t, e.v);
  eg.append("ellipse").attr("cx", cx).attr("cy", cy).attr("rx", e.rx).attr("ry", e.ry)
    .attr("fill", "none").attr("stroke", e.c).attr("stroke-width", e.w);
});

// double arrows
const arrows = [[2019.1868, -0.4588, -0.7486], [2019.8808, -0.3189, -0.6047], [2020.3865, -0.6685, -0.8833],
                [2021.292, -0.2804, -0.5337], [2022.933, -0.3635, -0.7384], [2023.395, -0.2419, -0.5519]];
const ag = ov.append("g");
arrows.forEach(([t, a, b]) => {
  const [x, ya] = P(t, a); const yb = P(t, b)[1];
  const hw = 14, hl = 40, sw = 3;
  const pts = [[x, ya], [x + hw, ya + hl], [x + sw, ya + hl], [x + sw, yb - hl], [x + hw, yb - hl], [x, yb],
               [x - hw, yb - hl], [x - sw, yb - hl], [x - sw, ya + hl], [x - hw, ya + hl]];
  ag.append("polygon").attr("points", pts.map(p => p.join(",")).join(" ")).attr("fill", GREEN);
});

// callouts
function calloutPath(b, r, tail) {
  const [x0, y0, x1, y1] = b;
  const tip = P(tail.t, tail.v);
  let d = `M${x0 + r},${y0}`;
  if (tail.edge === "top") d += `L${tail.a},${y0}L${tip[0]},${tip[1]}L${tail.b},${y0}`;
  d += `L${x1 - r},${y0}A${r},${r} 0 0 1 ${x1},${y0 + r}L${x1},${y1 - r}A${r},${r} 0 0 1 ${x1 - r},${y1}`;
  if (tail.edge === "bottom") {
    d += `L${tail.b},${y1}L${tip[0]},${tip[1]}L${tail.a},${y1}L${x0 + r},${y1}A${r},${r} 0 0 1 ${x0},${y1 - r}`;
  } else if (tail.edge === "bottomleft") {
    d += `L${tail.b},${y1}L${tip[0]},${tip[1]}L${x0},${tail.ay}`;
  } else {
    d += `L${x0 + r},${y1}A${r},${r} 0 0 1 ${x0},${y1 - r}`;
  }
  d += `L${x0},${y0 + r}A${r},${r} 0 0 1 ${x0 + r},${y0}Z`;
  return d;
}
const callouts = [
  {box: [613, 160, 905, 308], r: 18, c: RED, w: 5, tail: {edge: "bottom", a: 718, b: 746, t: 2020.1156, v: -0.1731},
   lines: alignLines, x: 623, ys: [196.7, 226.7, 256.7, 286.7], lens: [265, 209, 175, 106], size: 25},
  {box: [652, 1003, 1384, 1128], r: 20, c: GREEN, w: 5, tail: {edge: "top", a: 964, b: 1040, t: 2021.4004, v: -0.402},
   lines: divergentLines, x: 659, ys: [1041.7, 1071.7, 1101.7], lens: [616, 686, 215], size: 25},
  {box: [1522, 217, 1993, 285], r: 14, c: BLUE, w: 4.5, tail: {edge: "bottom", a: 1602, b: 1734, t: 2023.6708, v: 0.0255},
   lines: gorillaNote, x: 1531, ys: [243.3, 268.3], lens: [441, 152], size: 21},
  {box: [1513, 348, 1987, 388], r: 12, c: MAG, w: 4.5, tail: {edge: "bottom", a: 1619.5, b: 1748.7, t: 2023.6553, v: -0.1487},
   lines: vixNote, x: 1523.7, ys: [375], lens: [429], size: 21},
  {box: [1525, 437, 1996, 497], r: 14, c: PINK, w: 4.5, tail: {edge: "bottomleft", b: 1720, ay: 486.7, t: 2023.643, v: -0.2677},
   lines: corrNote, x: 1536, ys: [460, 485], lens: [407.6, 433], size: 21}
];
const cg = ov.append("g");
callouts.forEach(co => {
  cg.append("path").attr("d", calloutPath(co.box, co.r, co.tail)).attr("fill", "none")
    .attr("stroke", co.c).attr("stroke-width", co.w).attr("stroke-linejoin", "round").attr("filter", "url(#sh)");
  co.lines.forEach((ln, i) => txt(cg, {x: co.x, y: co.ys[i], text: ln, size: co.size, italic: true, family: DV, fill: co.c, len: co.lens[i]}));
});

// zone legend (bottom left)
const zg = ov.append("g");
const zones = [
  {c: RED, block: [51.8, 1006, 77.7, 1075], box: [89.3, 1007.3, 600, 1075.3], lines: euphoriaNote, cx: 344.5, ys: [1035, 1057.3], lens: [471, 454]},
  {c: ORANGE, block: [51.8, 1085, 77.7, 1153.3], box: [93.75, 1094.3, 495.5, 1137.3], lines: neutralNote, cx: 297, ys: [1121.7], lens: [120.5]},
  {c: GREEN, block: [51.8, 1161, 77.7, 1228.7], box: [87.5, 1166.7, 541, 1225.3], lines: bullishNote, cx: 316, ys: [1190, 1211.7], lens: [394.6, 288.4]}
];
zones.forEach(z => {
  zg.append("rect").attr("x", z.block[0]).attr("y", z.block[1]).attr("width", z.block[2] - z.block[0]).attr("height", z.block[3] - z.block[1]).attr("fill", z.c);
  zg.append("rect").attr("x", z.box[0] + 2).attr("y", z.box[1] + 2).attr("width", z.box[2] - z.box[0] - 4).attr("height", z.box[3] - z.box[1] - 4)
    .attr("fill", "none").attr("stroke", z.c).attr("stroke-width", 4);
  z.lines.forEach((ln, i) => txt(zg, {x: z.cx, y: z.ys[i], text: ln, size: 17.5, bold: true, italic: true, fill: z.c, anchor: "middle", len: z.lens[i]}));
});
</script>
</body>
</html>
